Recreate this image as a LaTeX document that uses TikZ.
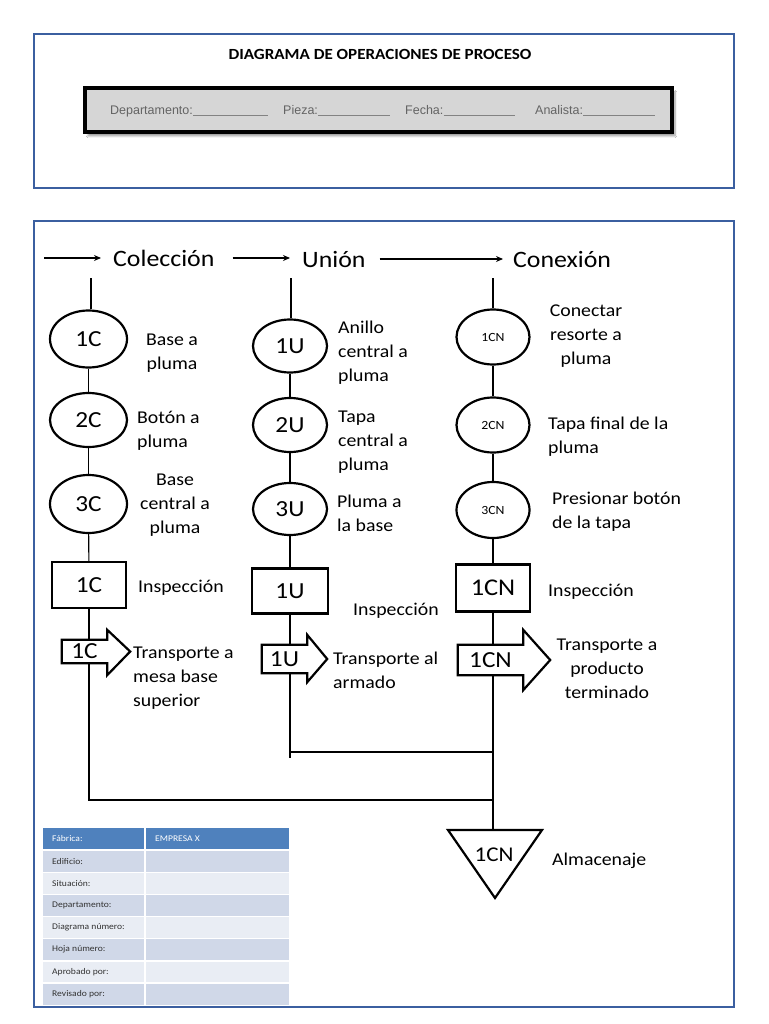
\documentclass[tikz,border=0pt]{standalone}
\usepackage{fontspec}
\setmainfont{Carlito}[FakeStretch=1.1]
\newfontfamily\arialf{Liberation Sans}
\usetikzlibrary{shapes.geometric,arrows.meta,shadows.blur}
\definecolor{frameblue}{RGB}{59,95,160}
\definecolor{hdrblue}{RGB}{79,129,189}
\definecolor{rowdark}{RGB}{208,216,232}
\definecolor{rowlight}{RGB}{233,237,244}
\definecolor{formgray}{RGB}{100,100,100}
\tikzset{
 frame/.style={draw=frameblue, line width=1.6pt},
 opnode/.style={ellipse, draw, line width=2.2pt, inner sep=0, font=\fontsize{23}{26}\selectfont},
 smallop/.style={opnode, font=\fontsize{12.5}{15}\selectfont},
 insp/.style={rectangle, draw, line width=2.2pt, inner sep=0, font=\fontsize{23}{26}\selectfont},
 shaft/.style={rectangle, inner sep=0, font=\fontsize{23}{26}\selectfont},
 tshape/.style={line width=2.2pt, line join=miter},
 link/.style={line width=1.1pt},
 lbl/.style={inner sep=0, font=\fontsize{18}{24}\selectfont, align=left, anchor=west, yshift=-2.5pt},
 clbl/.style={inner sep=0, font=\fontsize{18}{24}\selectfont, align=center, yshift=-2.5pt},
 headtxt/.style={inner sep=0, font=\fontsize{23.5}{28}\selectfont, text height=17pt, text depth=0pt, anchor=west},
 harrow/.style={line width=1.3pt, -{Stealth[length=7pt,width=6pt]}},
 formtxt/.style={inner sep=0, anchor=base west, text=formgray, font=\arialf\fontsize{12.5}{14}\selectfont},
 formline/.style={draw=formgray!80, line width=0.8pt},
 celltxt/.style={inner sep=0, anchor=west, font=\fontsize{8.7}{10}\selectfont, text=black!80},
}
\begin{document}
\begin{tikzpicture}[x=1pt,y=-1pt]
\useasboundingbox (0,0) rectangle (768,1024);
\fill[white] (0,0) rectangle (768,1024);
% ---------- top box ----------
\draw[frame] (34,34) rectangle (734,188);
\node[inner sep=0, font=\bfseries\fontsize{15.5}{18}\selectfont] (title) at (380,54) {DIAGRAMA DE OPERACIONES DE PROCESO};
\node[draw, line width=3.5pt, fill=black!16, minimum width=587, minimum height=44, inner sep=0,
      blur shadow={shadow xshift=3pt, shadow yshift=-4pt, shadow blur steps=8}] (bar) at (378.5,110) {};
\node[formtxt] (f1) at (110,115) {Departamento:};
\draw[formline] (f1.base east) -- (268,115);
\node[formtxt] (f2) at (283,115) {Pieza:};
\draw[formline] (f2.base east) -- (390,115);
\node[formtxt] (f3) at (405,115) {Fecha:};
\draw[formline] (f3.base east) -- (515,115);
\node[formtxt] (f4) at (535,115) {Analista:};
\draw[formline] (f4.base east) -- (655,115);
% ---------- main box ----------
\draw[frame] (34,221) rectangle (734,1007);
% headers
\node[headtxt] (h1) at (113,258) {Colección};
\node[headtxt] (h2) at (302,259) {Unión};
\node[headtxt] (h3) at (513,259) {Conexión};
\coordinate (h0) at (44,258);
\draw[harrow, shorten >=12pt] (h0) -- (h1.west);
\draw[harrow, shorten <=18pt, shorten >=12pt] (h1.east) -- (h2.west |- h1.east);
\draw[harrow, shorten <=14pt, shorten >=10pt] (h2.east) -- (h3.west);
% column 1
\node[opnode, minimum width=77, minimum height=57] (c1) at (88.5,339) {1C};
\node[opnode, minimum width=77, minimum height=54] (c2) at (88.5,420) {2C};
\node[opnode, minimum width=77, minimum height=58] (c3) at (88.5,504) {3C};
\node[insp, minimum width=74, minimum height=46] (r1) at (89,585) {1C};
\node[shaft, minimum width=45, minimum height=23] (t1) at (84.5,651.5) {1C};
\draw[tshape] (t1.north west) -- (t1.north east) -- ([yshift=10pt]t1.north east) -- ([xshift=23pt]t1.east) -- ([yshift=-12pt]t1.south east) -- (t1.south east) -- (t1.south west) -- cycle;
\node[clbl] (l1) at (172,351) {Base a\\pluma};
\node[lbl] (l2) at (137,428) {Botón a\\pluma};
\node[clbl] (l3) at (175,503) {Base\\central a\\pluma};
\node[lbl] (l4) at (138,585) {Inspección};
\node[lbl] (l5) at (133,676) {Transporte a\\mesa base\\superior};
% column 2
\node[opnode, minimum width=74, minimum height=53] (u1) at (290,346) {1U};
\node[opnode, minimum width=74, minimum height=54] (u2) at (290,425) {2U};
\node[opnode, minimum width=74, minimum height=52] (u3) at (290,509) {3U};
\node[insp, minimum width=76, minimum height=45] (r2) at (290,591) {1U};
\node[shaft, minimum width=45, minimum height=28] (t2) at (284.5,659) {1U};
\draw[tshape] (t2.north west) -- (t2.north east) -- ([yshift=10pt]t2.north east) -- ([xshift=20pt]t2.east) -- ([yshift=-9pt]t2.south east) -- (t2.south east) -- (t2.south west) -- cycle;
\node[lbl] (m1) at (338,350) {Anillo\\central a\\pluma};
\node[lbl] (m2) at (338,440) {Tapa\\central a\\pluma};
\node[lbl] (m3) at (337,511) {Pluma a\\la base};
\node[lbl] (m4) at (353,608) {Inspección};
\node[lbl] (m5) at (333,668) {Transporte al\\armado};
% column 3
\node[smallop, minimum width=73, minimum height=55] (n1) at (493,337) {1CN};
\node[smallop, minimum width=73, minimum height=55] (n2) at (493,425) {2CN};
\node[smallop, minimum width=73, minimum height=56] (n3) at (493,510) {3CN};
\node[insp, minimum width=74, minimum height=47, font=\fontsize{24}{28}\selectfont] (r3) at (493,588) {1CN};
\node[shaft, minimum width=65, minimum height=30] (t3) at (490.5,660) {1CN};
\draw[tshape] (t3.north west) -- (t3.north east) -- ([yshift=15pt]t3.north east) -- ([xshift=27pt]t3.east) -- ([yshift=-15pt]t3.south east) -- (t3.south east) -- (t3.south west) -- cycle;
\node[clbl] (k1) at (586,334) {Conectar\\resorte a\\pluma};
\node[lbl] (k2l) at (548,434) {Tapa final de la\\pluma};
\node[lbl] (k3l) at (552,509) {Presionar botón\\de la tapa};
\node[lbl] (k4l) at (548,589) {Inspección};
\node[clbl] (k5l) at (607,666) {Transporte a\\producto\\terminado};
% storage
\node[inner sep=0, font=\fontsize{21}{24}\selectfont] (a1) at (494,855) {1CN};
\draw[tshape] (448,830) -- (542,830) -- (495,898) -- cycle;
\coordinate (a1top) at (493,830);
\node[lbl] (alm) at (552,858) {Almacenaje};
% connectors
\coordinate (s1) at (91,278);
\coordinate (s2) at (291,278);
\coordinate (s3) at (493,278);
\draw[link] (s1) -- (s1 |- c1.north);
\draw[link] (s2) -- (s2 |- u1.north);
\draw[link] (s3) -- (n1.north);
\draw[link] (c1) -- (c2);
\draw[link] (c2) -- (c3);
\draw[link] (c3) -- (r1);
\draw[link] (r1.south) -- (r1.south |- t1.north);
\draw[link] (u1) -- (u2);
\draw[link] (u2) -- (u3);
\draw[link] (u3) -- (r2);
\draw[link] (r2.south) -- (r2.south |- t2.north);
\draw[link] (n1) -- (n2);
\draw[link] (n2) -- (n3);
\draw[link] (n3) -- (r3);
\draw[link] (r3.south) -- (r3.south |- t3.north);
\coordinate (j1) at (89,800);
\coordinate (j3) at (493,800);
\coordinate (q2) at (290,752);
\coordinate (q2e) at (290,758);
\coordinate (q3) at (493,752);
\draw[link] (r1.south |- t1.south) -- (j1) -- (j3);
\draw[link] (r2.south |- t2.south) -- (q2e);
\draw[link] (q2) -- (q3);
\draw[link] (r3.south |- t3.south) -- (a1top);
% ---------- table ----------
\fill[hdrblue] (43,828) rectangle (289,850.1);
\foreach \i/\c in {1/rowdark,2/rowlight,3/rowdark,4/rowlight,5/rowdark,6/rowlight,7/rowdark}
  \fill[\c] (43,{828+22.125*\i}) rectangle (289,{828+22.125*(\i+1)});
\foreach \i in {1,...,7}
  \draw[white, line width=1.5pt] (43,{828+22.125*\i}) -- (289,{828+22.125*\i});
\draw[white, line width=2pt] (145,828) -- (145,1005);
\node[celltxt, text=white] (tb0) at (52,839) {Fábrica:};
\node[celltxt, text=white] (tc0) at (155,839) {EMPRESA X};
\foreach \i/\t in {1/Edificio:,2/Situación:,3/Departamento:,4/Diagrama número:,5/Hoja número:,6/Aprobado por:,7/Revisado por:}
  \node[celltxt] (tb\i) at (52,{828+22.125*(\i+0.5)}) {\t};
\end{tikzpicture}
\end{document}
